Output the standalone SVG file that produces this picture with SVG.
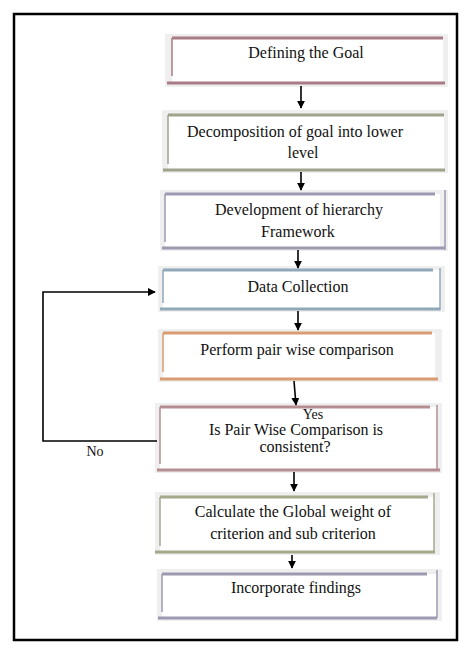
<svg xmlns="http://www.w3.org/2000/svg" width="474" height="654" viewBox="0 0 474 654">
<defs>
<style>
.t{font-family:"Liberation Serif","Times New Roman",serif;font-size:16px;fill:#111;text-anchor:middle}
.s{font-size:14px}
.sh{fill:#efefef}
.in{fill:#fff}
.c{stroke:#000;stroke-width:1.6;fill:none}
</style>
<marker id="ah" viewBox="0 0 10 10" refX="9" refY="5" markerWidth="8" markerHeight="8" orient="auto" markerUnits="userSpaceOnUse">
<path d="M0,0 L10,5 L0,10 z" fill="#000"/>
</marker>
</defs>
<rect width="474" height="654" fill="#fff"/>
<rect x="14" y="14" width="443" height="626" fill="none" stroke="#000" stroke-width="2.5"/>

<g id="n1">
<rect class="sh" x="165" y="34" width="283" height="53"/>
<rect class="in" x="172" y="38" width="271" height="45"/>
<g stroke="#a87c86"><line x1="172" y1="38" x2="443" y2="38" stroke-width="3"/><line x1="172" y1="38" x2="172" y2="76" stroke-width="1.5"/><line x1="167" y1="83" x2="445" y2="83" stroke-width="3"/></g>
<text class="t" x="306" y="58">Defining the Goal</text>
</g>

<g id="n2">
<rect class="sh" x="162" y="110" width="286" height="63"/>
<rect class="in" x="168" y="115" width="276" height="55"/>
<g stroke="#9fa38c"><line x1="168" y1="115" x2="444" y2="115" stroke-width="3"/><line x1="168" y1="115" x2="168" y2="164" stroke-width="1.5"/><line x1="163" y1="170" x2="445" y2="170" stroke-width="3"/></g>
<text class="t" x="295" y="137">Decomposition of goal into lower</text>
<text class="t" x="303" y="158">level</text>
</g>

<g id="n3">
<rect class="sh" x="160" y="190" width="288" height="61"/>
<rect class="in" x="165" y="194" width="275" height="54"/>
<g stroke="#9c9ab0"><line x1="165" y1="194" x2="435" y2="194" stroke-width="3"/><line x1="165" y1="194" x2="165" y2="242" stroke-width="1.5"/><line x1="162" y1="248" x2="445" y2="248" stroke-width="3"/><line x1="445" y1="190" x2="445" y2="250" stroke-width="1.5"/></g>
<text class="t" x="299" y="215">Development of hierarchy</text>
<text class="t" x="298" y="237">Framework</text>
</g>

<g id="n4">
<rect class="sh" x="158" y="266" width="287" height="46"/>
<rect class="in" x="163" y="270" width="277" height="39"/>
<g stroke="#8fa9b8"><line x1="163" y1="270" x2="433" y2="270" stroke-width="3"/><line x1="163" y1="270" x2="163" y2="303" stroke-width="1.5"/><line x1="160" y1="309" x2="440" y2="309" stroke-width="3"/><line x1="440" y1="268" x2="440" y2="310" stroke-width="1.5"/></g>
<text class="t" x="298" y="292">Data Collection</text>
</g>

<g id="n5">
<rect class="sh" x="158" y="329" width="284" height="53"/>
<rect class="in" x="163" y="333" width="272" height="46"/>
<g stroke="#d99b72"><line x1="163" y1="333" x2="432" y2="333" stroke-width="3"/><line x1="163" y1="333" x2="163" y2="372" stroke-width="1.5"/><line x1="160" y1="379" x2="438" y2="379" stroke-width="3"/></g>
<text class="t" x="297" y="355">Perform pair wise comparison</text>
</g>

<g id="n6">
<rect class="sh" x="155" y="403" width="287" height="70"/>
<rect class="in" x="160" y="407" width="277" height="63"/>
<g stroke="#b58e92"><line x1="160" y1="407" x2="430" y2="407" stroke-width="3"/><line x1="160" y1="407" x2="160" y2="464" stroke-width="1.5"/><line x1="157" y1="470" x2="440" y2="470" stroke-width="3"/><line x1="437" y1="405" x2="437" y2="470" stroke-width="1.5"/></g>
<text class="t" x="296" y="435">Is Pair Wise Comparison is</text>
<text class="t" x="295" y="452">consistent?</text>
</g>

<g id="n7">
<rect class="sh" x="155" y="492" width="285" height="63"/>
<rect class="in" x="160" y="497" width="274" height="55"/>
<g stroke="#a4a98c"><line x1="160" y1="497" x2="428" y2="497" stroke-width="3"/><line x1="160" y1="497" x2="160" y2="546" stroke-width="1.5"/><line x1="155" y1="552" x2="435" y2="552" stroke-width="3"/><line x1="434" y1="493" x2="434" y2="552" stroke-width="1.5"/></g>
<text class="t" x="293" y="517">Calculate the Global weight of</text>
<text class="t" x="293" y="539">criterion and sub criterion</text>
</g>

<g id="n8">
<rect class="sh" x="157" y="569" width="285" height="52"/>
<rect class="in" x="162" y="574" width="275" height="44"/>
<g stroke="#9c9ab0"><line x1="162" y1="574" x2="427" y2="574" stroke-width="3"/><line x1="162" y1="574" x2="162" y2="612" stroke-width="1.5"/><line x1="158" y1="618" x2="437" y2="618" stroke-width="3"/><line x1="437" y1="570" x2="437" y2="618" stroke-width="1.5"/></g>
<text class="t" x="296" y="593">Incorporate findings</text>
</g>

<g id="connectors">
<line class="c" x1="301" y1="86" x2="301" y2="108" marker-end="url(#ah)"/>
<line class="c" x1="301" y1="172" x2="301" y2="190" marker-end="url(#ah)"/>
<line class="c" x1="298" y1="250" x2="298" y2="268" marker-end="url(#ah)"/>
<line class="c" x1="298" y1="311" x2="298" y2="330" marker-end="url(#ah)"/>
<line class="c" x1="294" y1="381" x2="296" y2="405" marker-end="url(#ah)"/>
<line class="c" x1="294" y1="472" x2="294" y2="491" marker-end="url(#ah)"/>
<line class="c" x1="292" y1="555" x2="292" y2="568" marker-end="url(#ah)"/>
<path class="c" d="M157,441 H43 V292 H155" marker-end="url(#ah)"/>
<text class="t s" x="313" y="419">Yes</text>
<text class="t s" x="95" y="456">No</text>
</g>
</svg>
